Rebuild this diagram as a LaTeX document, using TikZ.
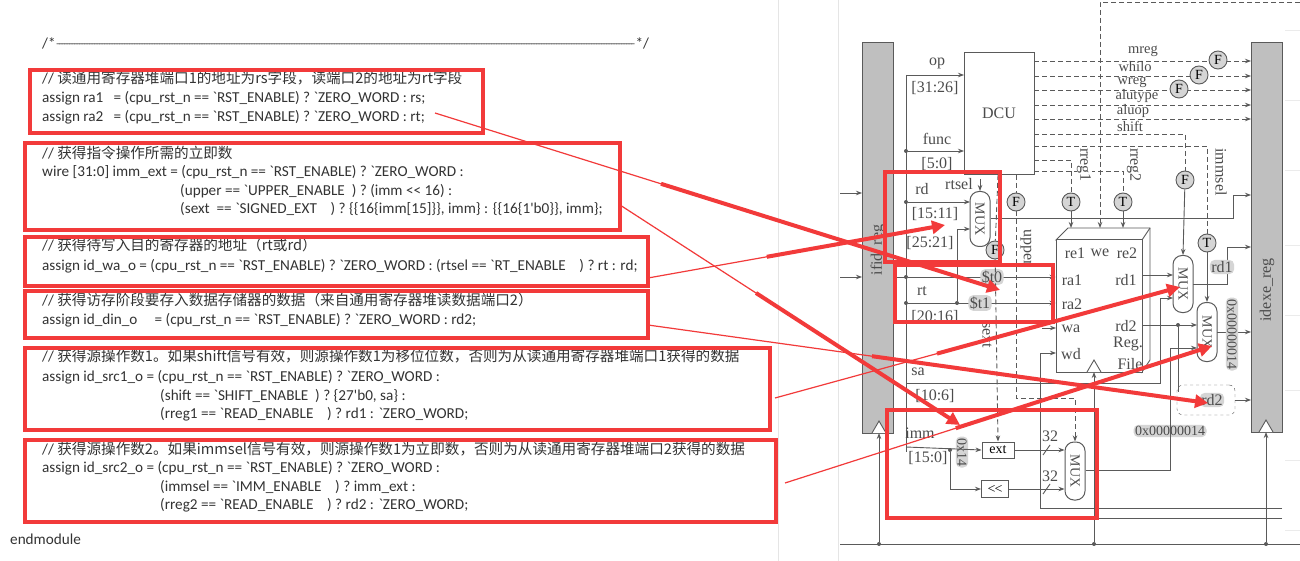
\documentclass[tikz,border=0pt]{standalone}
\usepackage{fontspec}
\setmainfont{Liberation Serif}
\newfontfamily\codefont{Carlito}
\newfontfamily\cjk{Noto Sans CJK SC}
\usetikzlibrary{arrows.meta,calc}
\definecolor{rd}{HTML}{F23A3A}
\definecolor{ln}{HTML}{5A5A5A}
\definecolor{lab}{HTML}{D5D5D5}
\newcommand{\cjkc}[1]{{\cjk\fontsize{14.6}{16}\selectfont #1}}
\begin{document}
\begin{tikzpicture}[x=1pt,y=-1pt,
  code/.style={anchor=base west,inner sep=0pt,font=\codefont\fontsize{15.2}{17}\selectfont,text=black!80},
  redbox/.style={draw=rd,line width=4.5pt},
  redthin/.style={draw=rd,line width=1.2pt},
  redthick/.style={draw=rd,line width=4pt,-{Triangle[length=13pt,width=13pt]}},
  w/.style={draw=ln,line width=0.9pt},
  wa/.style={w,-{Stealth[length=6pt]}},
  dsh/.style={draw=ln,line width=0.9pt,dash pattern=on 5pt off 3pt},
  dsha/.style={dsh,-{Stealth[length=6pt]}},
  lbl/.style={inner sep=0pt,font=\fontsize{16}{17}\selectfont,text=black!70},
  slbl/.style={lbl,font=\fontsize{14.5}{15}\selectfont},
  glbl/.style={lbl,fill=lab,rounded corners=5pt,inner sep=1.5pt},
  circ/.style={circle,draw=ln,fill=lab,line width=0.9pt,minimum size=18pt,inner sep=0pt,font=\fontsize{14}{15}\selectfont},
  mux/.style={draw=ln,line width=1pt,rounded corners=9pt,fill=white,minimum width=20pt,inner sep=0pt},
  muxl/.style={lbl,rotate=-90,font=\fontsize{14}{15}\selectfont},
  dot/.style={circle,fill=ln,inner sep=0pt,minimum size=4pt},
  regbar/.style={draw=ln,fill=black!25,line width=1pt}]
\useasboundingbox (0,0) rectangle (1300,561);
\fill[white] (0,0) rectangle (1300,561);
\foreach \yy in {30,100,170,245,315,390,460,530}{\draw[black!8] (1285,\yy) -- (1300,\yy);}
\draw[black!10] (838,0) -- (838,561);
\draw[black!10] (778,0) -- (778,561);
% ---------- code ----------
\node[code] (c0) at (42,49) {/*{\color{black!50}\leaders\hbox to 2.5pt{\hss-\hss}\hskip 580pt}*/};
\node[code] (t1) at (42,84) {// \cjkc{读通用寄存器堆端口1的地址为rs字段，读端口2的地址为rt字段}};
\node[code] (t2) at (42,103) {assign ra1\ \ \ = (cpu\_rst\_n == `RST\_ENABLE) ? `ZERO\_WORD : rs;};
\node[code] (t3) at (42,122) {assign ra2\ \ \ = (cpu\_rst\_n == `RST\_ENABLE) ? `ZERO\_WORD : rt;};
\node[code] (t4) at (42,159) {// \cjkc{获得指令操作所需的立即数}};
\node[code] (t5) at (42,177) {wire [31:0] imm\_ext = (cpu\_rst\_n == `RST\_ENABLE) ? `ZERO\_WORD :};
\node[code] (t6) at (180,196) {(upper == `UPPER\_ENABLE\ \ ) ? (imm << 16) :};
\node[code] (t7) at (180,214) {(sext\ \ == `SIGNED\_EXT\ \ \ \ ) ? \{\{16\{imm[15]\}\}, imm\} : \{\{16\{1'b0\}\}, imm\};};
\node[code] (t8) at (42,251) {// \cjkc{获得待写入目的寄存器的地址（rt或rd）}};
\node[code] (t9) at (42,270) {assign id\_wa\_o = (cpu\_rst\_n == `RST\_ENABLE) ? `ZERO\_WORD : (rtsel == `RT\_ENABLE\ \ \ \ ) ? rt : rd;};
\node[code] (t10) at (42,305) {// \cjkc{获得访存阶段要存入数据存储器的数据（来自通用寄存器堆读数据端口2）}};
\node[code] (t11) at (42,324) {assign id\_din\_o\ \ \ \ \ = (cpu\_rst\_n == `RST\_ENABLE) ? `ZERO\_WORD : rd2;};
\node[code] (t12) at (42,361) {// \cjkc{获得源操作数1。如果shift信号有效，则源操作数1为移位位数，否则为从读通用寄存器堆端口1获得的数据}};
\node[code] (t13) at (42,381) {assign id\_src1\_o = (cpu\_rst\_n == `RST\_ENABLE) ? `ZERO\_WORD :};
\node[code] (t14) at (160,400) {(shift == `SHIFT\_ENABLE\ \ ) ? \{27'b0, sa\} :};
\node[code] (t15) at (160,418) {(rreg1 == `READ\_ENABLE\ \ \ \ ) ? rd1 : `ZERO\_WORD;};
\node[code] (t16) at (42,454) {// \cjkc{获得源操作数2。如果immsel信号有效，则源操作数1为立即数，否则为从读通用寄存器堆端口2获得的数据}};
\node[code] (t17) at (42,472) {assign id\_src2\_o = (cpu\_rst\_n == `RST\_ENABLE) ? `ZERO\_WORD :};
\node[code] (t18) at (160,491) {(immsel == `IMM\_ENABLE\ \ \ \ ) ? imm\_ext :};
\node[code] (t19) at (160,509) {(rreg2 == `READ\_ENABLE\ \ \ \ ) ? rd2 : `ZERO\_WORD;};
\node[code] (t20) at (10,544) {endmodule};
% ---------- circuit ----------
\draw[regbar] (862,43) rectangle (893,433);
\draw[regbar] (1251,43) rectangle (1282,432);
\draw[ln,line width=0.9pt,fill=white] (872,433) -- (879,421) -- (886,433);
\draw[ln,line width=0.9pt,fill=white] (1259,432) -- (1266,420) -- (1273,432);
\node[lbl,rotate=90] (ifid) at (878,250) {ifid\_reg};
\node[lbl,rotate=90] (idexe) at (1267,290) {idexe\_reg};
\node[draw=ln,line width=1pt,fill=white,minimum width=70pt,minimum height=122pt,inner sep=0pt] (dcu) at (999,114) {};
\node[lbl] (dculbl) at (999,113) {DCU};
\coordinate (bt) at (906,75);
\coordinate (bb) at (906,452);
\draw[w] (bt) -- (bb);
\draw[w] (893,277) -- (906,277);
\draw[wa] (840,193) -- (862,193);
\draw[wa] (840,277) -- (862,277);
\draw[wa] (906,75) -- (964,75);
\node[lbl] (op) at (937,63) {op};
\node[lbl] (op2) at (935,88) {[31:26]};
\node[dot] (dfunc) at (906,151) {};
\draw[wa] (dfunc) -- (964,151);
\node[lbl] (func) at (937,139) {func};
\node[lbl] (func2) at (937,164) {[5:0]};
\node[mux,minimum height=55pt] (m1) at (980,219) {};
\node[muxl] (m1l) at (980,219) {MUX};
\node[dot] (drd) at (906,202) {};
\draw[wa] (drd) -- (970,202);
\node[lbl] (rdl) at (922,189) {rd};
\node[lbl] (rdl2) at (935,214) {[15:11]};
\node[lbl] (rtsel) at (959,184) {rtsel};
\draw[wa] (980,179) -- (m1.north);
\node[lbl] (rsl2) at (930,243) {[25:21]};
\node[dot] (drs) at (906,277) {};
\node[dot] (drt) at (906,303) {};
\node[dot] (drt2) at (957,303) {};
\draw[wa] (drt2) -- (957,229) -- (970,229);
\node[lbl] (rtl) at (922,291) {rt};
\node[lbl] (rtl2) at (935,317) {[20:16]};
\draw[w,fill=white] (1056,240) -- (1068,228) -- (1150,228) -- (1150,360) -- (1142,372) -- (1142,240) -- cycle;
\node[draw=ln,line width=1pt,fill=white,minimum width=86pt,minimum height=132pt,inner sep=0pt] (rf) at (1099,306) {};
\draw[w] (1142,240) -- (1150,228);
\draw[ln,line width=0.9pt,fill=white] (1087,372) -- (1094,360) -- (1101,372);
\draw[wa] (drs) -- (rf.west |- 0,277);
\draw[wa] (drt) -- (rf.west |- 0,303);
\node[glbl] (t0) at (992,277) {\$t0};
\node[glbl] (t1l) at (980,303) {\$t1};
\foreach \n/\t/\xx/\yy in {re1/re1/1075/253,we/we/1100/253,re2/re2/1127/253,ra1/ra1/1072/280,rd1/rd1/1126/280,ra2/ra2/1072/304,wa/wa/1071/329,rd2/rd2/1126/326,wd/wd/1071/354,reg/Reg./1128/344,file/File/1130/364}
  {\node[lbl] (\n) at (\xx,\yy) {\t};}
\draw[wa] (1042,328) -- (1056,328);
\foreach \yy in {61,76,90,105,119}{\draw[dsha] (1034,\yy) -- (1251,\yy);}
\node[slbl] (mreg) at (1143,51) {mreg};
\node[slbl] (whilo) at (1135,67) {whilo};
\node[slbl] (wreg) at (1132,82) {wreg};
\node[slbl] (alutype) at (1137,96) {alutype};
\node[slbl] (aluop) at (1133,111) {aluop};
\node[slbl] (shift) at (1130,126) {shift};
\node[circ] (f1) at (1218,60) {F};
\node[circ] (f2) at (1199,75) {F};
\node[circ] (f3) at (1179,89) {F};
\draw[dsha] (1300,2) -- (1100,2) -- (1100,228);
\node[circ] (f4) at (1185,180) {F};
\draw[dsh] (1034,134) -- (1185,134) -- (f4);
\node[circ] (tt3) at (1207,243) {T};
\draw[dsh] (1034,146) -- (1207,146) -- (tt3);
\node[lbl,rotate=-90] (immsel) at (1221,172) {immsel};
\node[circ] (tt1) at (1071,202) {T};
\node[circ] (tt2) at (1123,202) {T};
\draw[dsh] (1034,160) -- (1071,160) -- (tt1);
\draw[dsh] (1034,171) -- (1123,171) -- (tt2);
\draw[wa] (tt1) -- (1071,228);
\draw[wa] (tt2) -- (1123,228);
\node[lbl,rotate=-90,fill=white,inner sep=0.5pt] (rreg1) at (1084,165) {rreg1};
\node[lbl,rotate=-90,fill=white,inner sep=0.5pt] (rreg2) at (1134,165) {rreg2};
\node[circ] (f5) at (1016,202) {F};
\node[circ] (f6) at (995,250) {F};
\draw[dsh] (1016,175) -- (f5);
\draw[dsh] (998,175) -- (f6);
\node[lbl,rotate=-90] (upper) at (1026,248) {upper};
\node[lbl,rotate=-90] (sext) at (987,335) {sext};
\draw[wa] (m1.east |- 0,218) -- (1233,218) -- (1233,195) -- (1251,195);
\node[mux,minimum height=57pt] (m2) at (1183,284) {};
\node[muxl] (m2l) at (1183,284) {MUX};
\draw[wa] (f4) -- (m2.north);
\draw[wa] (rf.east |- 0,275) -- (1173,275);
\draw[wa] (906,383) -- (1160,383) -- (1160,298) -- (1173,298);
\node[lbl] (sa) at (918,372) {sa};
\node[lbl] (sa2) at (935,396) {[10:6]};
\draw[wa] (1193,284) -- (1227,284) -- (1227,247) -- (1251,247);
\node[glbl] (rd1l) at (1222,267) {rd1};
\node[mux,minimum height=59pt] (m3) at (1207,332) {};
\node[muxl] (m3l) at (1207,332) {MUX};
\draw[wa] (tt3) -- (m3.north);
\node[dot] (drd2) at (1178,325) {};
\draw[wa] (rf.east |- 0,325) -- (1197,325);
\draw[wa] (1217,332) -- (1251,332);
\node[glbl,rotate=-90,font=\fontsize{14}{15}\selectfont] (hex1) at (1232,334) {0x00000014};
\node[draw=ln,dashed,rounded corners=6pt,minimum width=58pt,minimum height=30pt,inner sep=0pt] (rd2box) at (1206,400) {};
\node[glbl] (rd2l) at (1212,400) {rd2};
\draw[w] (drd2) -- (1178,392);
\draw[wa] (1235,400) -- (1251,400);
\node[glbl,font=\fontsize{14}{15}\selectfont] (hex2) at (1170,431) {0x00000014};
\node[lbl] (imm) at (920,433) {imm};
\node[lbl] (imm2) at (928,458) {[15:0]};
\node[glbl,rotate=-90,font=\fontsize{14}{15}\selectfont] (x14) at (962,452) {0x14};
\node[draw=ln,line width=1pt,minimum width=32pt,minimum height=16pt,inner sep=0pt,font=\fontsize{14}{15}\selectfont] (ext) at (998,450) {ext};
\node[draw=ln,line width=1pt,minimum width=27pt,minimum height=17pt,inner sep=0pt,font=\fontsize{14}{15}\selectfont] (shl) at (995,489) {\char`<\kern-1pt\char`<};
\draw[wa] (906,447) -- (ext.west);
\node[dot] (dimm) at (950,450) {};
\draw[wa] (dimm) -- (950,489) -- (shl.west);
\draw[dsha] (f6) -- (ext.north);
\node[mux,minimum height=58pt] (m4) at (1075,471) {};
\node[muxl] (m4l) at (1075,471) {MUX};
\draw[wa] (ext.east) -- (m4.west |- 0,450);
\draw[wa] (shl.east) -- (m4.west |- 0,489);
\draw[w] (1043,455) -- (1050,445);
\draw[w] (1043,494) -- (1050,484);
\node[lbl] (b32a) at (1050,436) {32};
\node[lbl] (b32b) at (1050,476) {32};
\draw[dsha] (f5) -- (1016,398) -- (1075,398) -- (m4.north);
\draw[wa] (m4.east |- 0,470) -- (1170,470) -- (1170,348) -- (1197,348);
\draw[wa] (1282,508) -- (1040,508) -- (1040,353) -- (1056,353);
\draw[w] (1282,518) -- (1050,518);
\draw[w] (840,544) -- (1300,544);
\node[dot] (ck1) at (879,544) {};
\node[dot] (ck2) at (1094,544) {};
\node[dot] (ck3) at (1266,544) {};
\draw[wa] (ck1) -- (879,433);
\draw[wa] (ck2) -- (1094,372);
\draw[wa] (ck3) -- (1266,432);
% ---------- red boxes ----------
\draw[redbox] (30,70) rectangle (483,133);
\draw[redbox] (25,143) rectangle (620,230);
\draw[redbox] (25,237) rectangle (648,286);
\draw[redbox] (25,291) rectangle (648,338);
\draw[redbox] (25,348) rectangle (770,430);
\draw[redbox] (25,440) rectangle (776,522);
\draw[redbox] (885,172) rectangle (1000,262);
\draw[redbox] (895,265) rectangle (1053,322);
\draw[redbox] (887,410) rectangle (1097,518);
% ---------- red arrows ----------
\foreach \i/\sx/\sy/\ex/\ey in {1/435/113/1000/290, 2/620/205/960/425, 3/648/278/945/225, 4/648/325/1208/403, 5/775/398/1180/287, 6/785/483/1212/346}{
  \coordinate (s\i) at (\sx,\sy);
  \coordinate (e\i) at (\ex,\ey);
  \draw[redthin] (s\i) -- ($(s\i)!0.5!(e\i)$);
  \draw[redthick] ($(s\i)!0.4!(e\i)$) -- (e\i);
}
\end{tikzpicture}
\end{document}
